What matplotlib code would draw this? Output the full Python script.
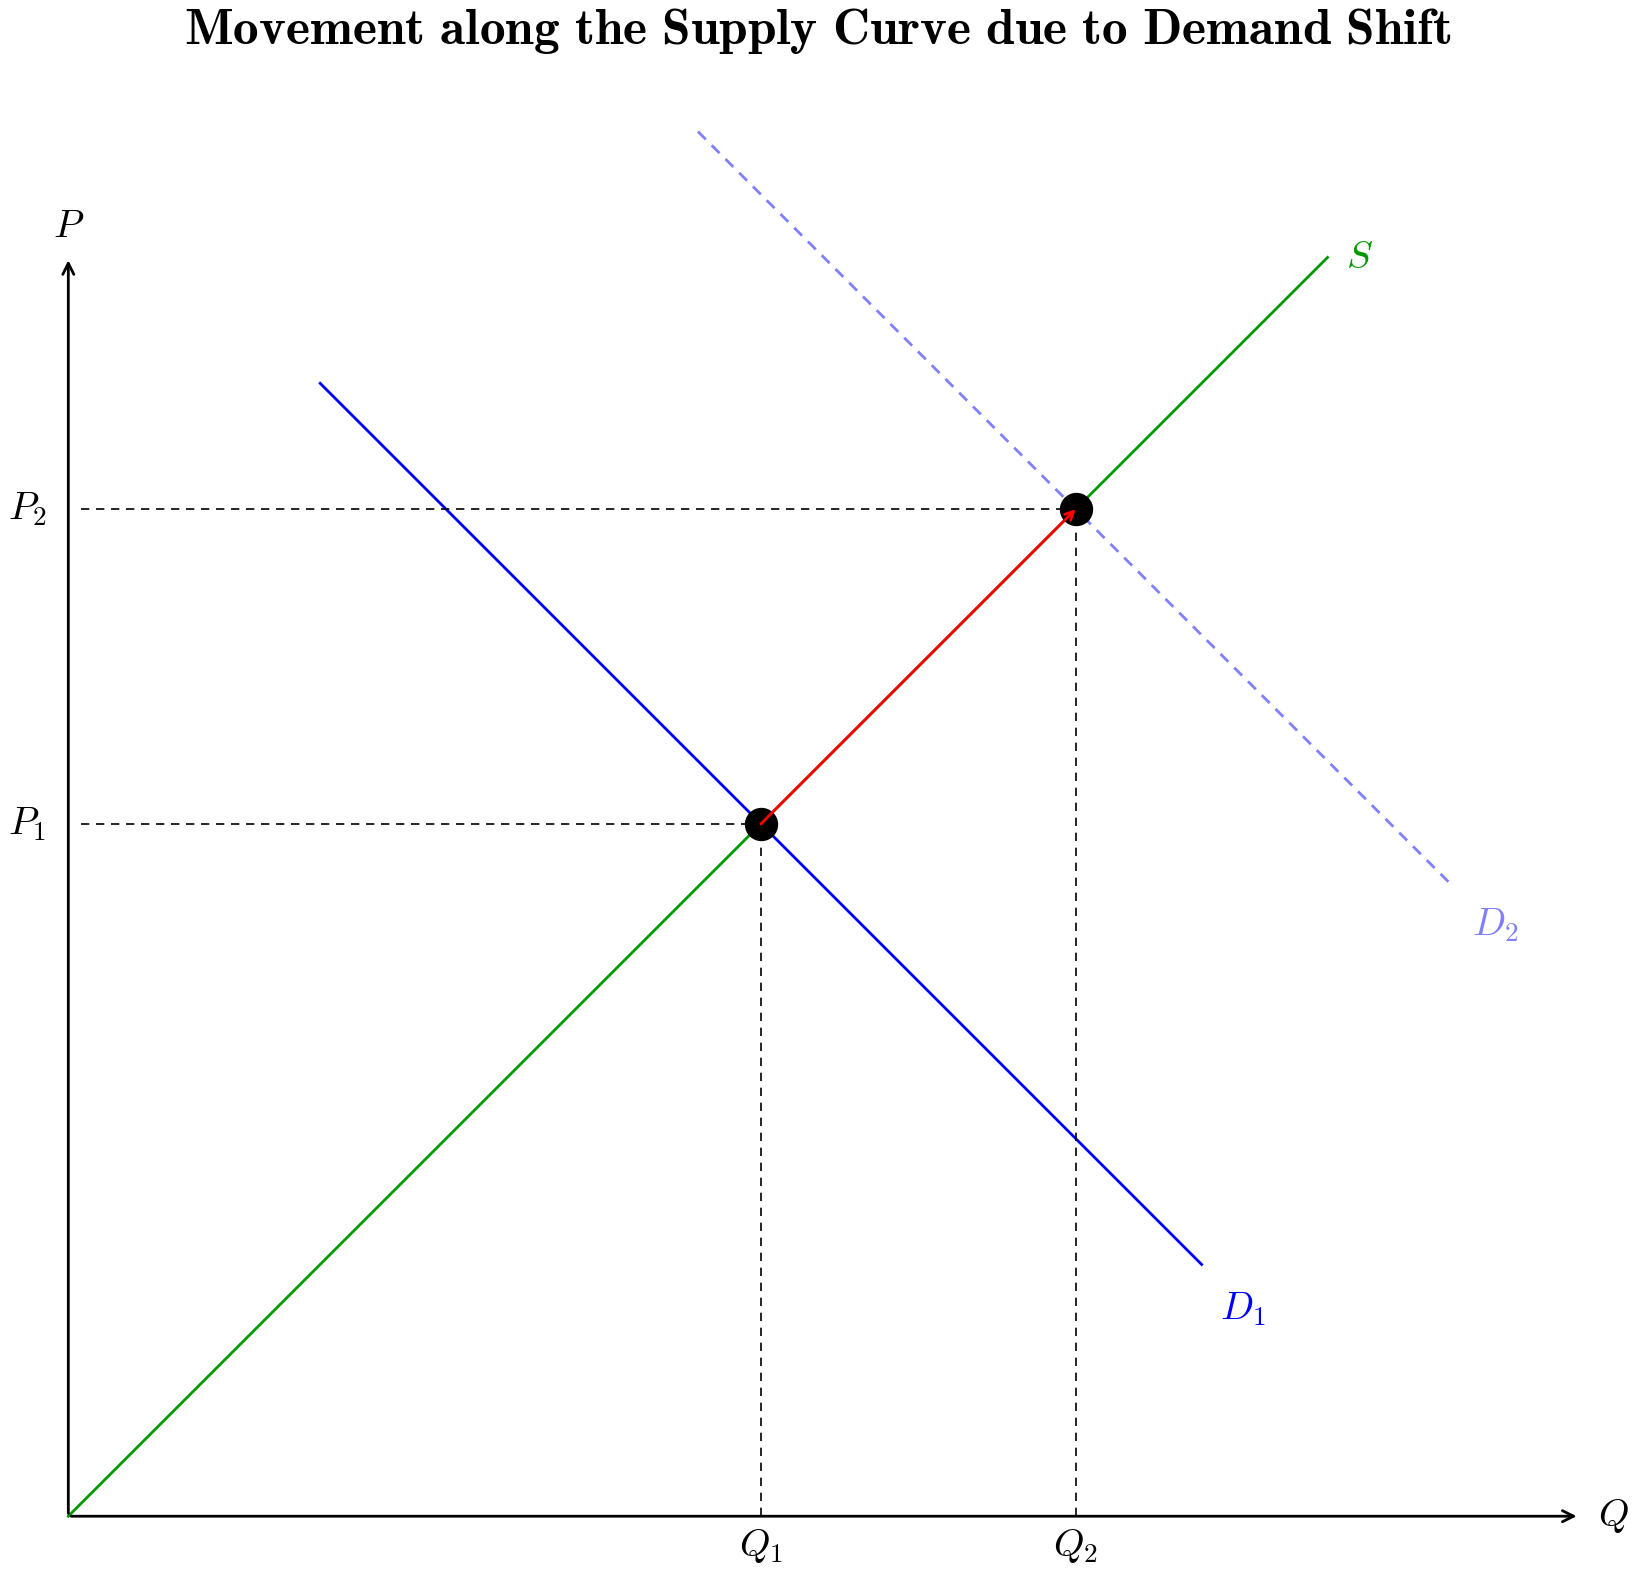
import matplotlib
matplotlib.use("Agg")
import matplotlib.pyplot as plt

plt.rcParams['mathtext.fontset'] = 'cm'

supply_q = [0, 20]; supply_p = [0, 20]
d1_q = [4, 18]; d1_p = [18, 4]
d2_q = [10, 22]; d2_p = [22, 10]
eq_q = [11, 16]; eq_p = [11, 16]
q_max, p_max = 24, 20

fig = plt.figure(figsize=(16.48, 15.76), dpi=100)
ax = fig.add_axes([0, 0, 1, 1])
ax.set_xlim(-1.085, 25.09)
ax.set_ylim(-0.95, 24.09)
ax.axis('off')

ax.annotate('', xy=(q_max, 0), xytext=(0, 0),
            arrowprops=dict(arrowstyle='->', lw=2, color='black', mutation_scale=20))
ax.annotate('', xy=(0, p_max), xytext=(0, 0),
            arrowprops=dict(arrowstyle='->', lw=2, color='black', mutation_scale=20))
ax.text(q_max + 0.3, 0, r'$Q$', fontsize=28, va='center', ha='left')
ax.text(0, p_max + 0.2, r'$P$', fontsize=28, va='bottom', ha='center')

ax.plot(supply_q, supply_p, color='#009900', lw=2)
ax.plot(d1_q, d1_p, color='blue', lw=2)
ax.plot(d2_q, d2_p, color='#8080ff', lw=2, ls=(0, (4, 3)))
ax.text(supply_q[1] + 0.3, supply_p[1], r'$S$', color='#009900', fontsize=28, va='center')
ax.text(d1_q[1] + 0.3, d1_p[1] - 0.7, r'$D_1$', color='blue', fontsize=28, va='center')
ax.text(d2_q[1] + 0.3, d2_p[1] - 0.6, r'$D_2$', color='#8080ff', fontsize=28, va='center')

for i, (q, p) in enumerate(zip(eq_q, eq_p)):
    ax.plot([0.2, q], [p, p], color='black', lw=1.2, ls=(0, (5, 4)))
    ax.plot([q, q], [0, p], color='black', lw=1.2, ls=(0, (5, 4)))
    ax.text(-0.65, p, r'$P_%d$' % (i + 1), fontsize=28, va='center', ha='center')
    ax.text(q, -0.17, r'$Q_%d$' % (i + 1), fontsize=28, va='top', ha='center')

ax.plot(eq_q, eq_p, 'o', color='black', ms=23, zorder=5)
ax.annotate('', xy=(eq_q[1], eq_p[1]), xytext=(eq_q[0], eq_p[0]),
            arrowprops=dict(arrowstyle='->', lw=2, color='red', mutation_scale=15,
                            shrinkA=0, shrinkB=0), zorder=6)

ax.text(11.9, 23.6, r'$\mathbf{Movement\ along\ the\ Supply\ Curve\ due\ to\ Demand\ Shift}$',
        fontsize=37, ha='center', va='center')

fig.savefig('out.png', dpi=100)
